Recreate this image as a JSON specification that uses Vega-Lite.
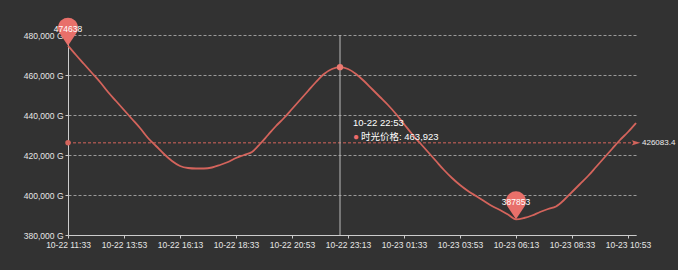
{
  "$schema": "https://vega.github.io/schema/vega-lite/v6.json",
  "width": 568,
  "height": 200,
  "autosize": {"type": "none"},
  "padding": {"left": 68, "top": 35, "right": 42, "bottom": 35},
  "background": "#323232",
  "config": {
    "view": {"stroke": null},
    "axis": {"labelColor": "#e6e6e6", "tickColor": "#cccccc", "domainColor": "#cccccc", "labelFont": "Liberation Sans", "labelFontSize": 8.5, "tickSize": 3, "title": null},
    "text": {"font": "Liberation Sans"}
  },
  "resolve": {"axis": {"x": "independent", "y": "independent"}},
  "datasets": {
    "prices": [
      {"t": "2023-10-22T11:33:00", "v": 474638},
      {"t": "2023-10-22T11:53:00", "v": 470000},
      {"t": "2023-10-22T12:13:00", "v": 465500},
      {"t": "2023-10-22T12:33:00", "v": 461000},
      {"t": "2023-10-22T12:53:00", "v": 456500},
      {"t": "2023-10-22T13:13:00", "v": 451500},
      {"t": "2023-10-22T13:33:00", "v": 447000},
      {"t": "2023-10-22T13:53:00", "v": 442500},
      {"t": "2023-10-22T14:13:00", "v": 438000},
      {"t": "2023-10-22T14:33:00", "v": 433500},
      {"t": "2023-10-22T14:53:00", "v": 428500},
      {"t": "2023-10-22T15:13:00", "v": 424500},
      {"t": "2023-10-22T15:33:00", "v": 420500},
      {"t": "2023-10-22T15:53:00", "v": 417000},
      {"t": "2023-10-22T16:13:00", "v": 414500},
      {"t": "2023-10-22T16:33:00", "v": 413500},
      {"t": "2023-10-22T16:53:00", "v": 413250},
      {"t": "2023-10-22T17:13:00", "v": 413250},
      {"t": "2023-10-22T17:33:00", "v": 413750},
      {"t": "2023-10-22T17:53:00", "v": 415000},
      {"t": "2023-10-22T18:13:00", "v": 416500},
      {"t": "2023-10-22T18:33:00", "v": 418500},
      {"t": "2023-10-22T18:53:00", "v": 420000},
      {"t": "2023-10-22T19:13:00", "v": 421500},
      {"t": "2023-10-22T19:33:00", "v": 425500},
      {"t": "2023-10-22T19:53:00", "v": 430000},
      {"t": "2023-10-22T20:13:00", "v": 434500},
      {"t": "2023-10-22T20:33:00", "v": 438500},
      {"t": "2023-10-22T20:53:00", "v": 443000},
      {"t": "2023-10-22T21:13:00", "v": 447500},
      {"t": "2023-10-22T21:33:00", "v": 452000},
      {"t": "2023-10-22T21:53:00", "v": 456500},
      {"t": "2023-10-22T22:13:00", "v": 460500},
      {"t": "2023-10-22T22:33:00", "v": 463000},
      {"t": "2023-10-22T22:53:00", "v": 463923},
      {"t": "2023-10-22T23:13:00", "v": 463000},
      {"t": "2023-10-22T23:33:00", "v": 460500},
      {"t": "2023-10-22T23:53:00", "v": 457000},
      {"t": "2023-10-23T00:13:00", "v": 453000},
      {"t": "2023-10-23T00:33:00", "v": 449000},
      {"t": "2023-10-23T00:53:00", "v": 445000},
      {"t": "2023-10-23T01:13:00", "v": 440500},
      {"t": "2023-10-23T01:33:00", "v": 435500},
      {"t": "2023-10-23T01:53:00", "v": 430500},
      {"t": "2023-10-23T02:13:00", "v": 426000},
      {"t": "2023-10-23T02:33:00", "v": 421500},
      {"t": "2023-10-23T02:53:00", "v": 417000},
      {"t": "2023-10-23T03:13:00", "v": 412500},
      {"t": "2023-10-23T03:33:00", "v": 408500},
      {"t": "2023-10-23T03:53:00", "v": 405000},
      {"t": "2023-10-23T04:13:00", "v": 402000},
      {"t": "2023-10-23T04:33:00", "v": 399500},
      {"t": "2023-10-23T04:53:00", "v": 397000},
      {"t": "2023-10-23T05:13:00", "v": 394500},
      {"t": "2023-10-23T05:33:00", "v": 392500},
      {"t": "2023-10-23T05:53:00", "v": 390250},
      {"t": "2023-10-23T06:13:00", "v": 387853},
      {"t": "2023-10-23T06:33:00", "v": 388500},
      {"t": "2023-10-23T06:53:00", "v": 389750},
      {"t": "2023-10-23T07:13:00", "v": 391500},
      {"t": "2023-10-23T07:33:00", "v": 393000},
      {"t": "2023-10-23T07:53:00", "v": 394250},
      {"t": "2023-10-23T08:13:00", "v": 397500},
      {"t": "2023-10-23T08:33:00", "v": 401500},
      {"t": "2023-10-23T08:53:00", "v": 405500},
      {"t": "2023-10-23T09:13:00", "v": 409500},
      {"t": "2023-10-23T09:33:00", "v": 414000},
      {"t": "2023-10-23T09:53:00", "v": 418500},
      {"t": "2023-10-23T10:13:00", "v": 423000},
      {"t": "2023-10-23T10:33:00", "v": 427500},
      {"t": "2023-10-23T10:53:00", "v": 431500},
      {"t": "2023-10-23T11:13:00", "v": 436000}
    ],
    "mean": [
      {"t": "2023-10-22T11:33:00", "t2": "2023-10-23T11:13:00", "v": 426083.4, "label": "426083.4"}
    ],
    "pins": [
      {"t": "2023-10-22T11:33:00", "v": 474638, "label": "474638"},
      {"t": "2023-10-23T06:13:00", "v": 387853, "label": "387853"}
    ],
    "hover": [
      {"t": "2023-10-22T22:53:00", "v": 463923, "time": "10-22 22:53", "label": "时光价格: 463,923"}
    ]
  },
  "layer": [
    {
      "data": {"name": "prices"},
      "mark": {"type": "line", "color": "#d4645c", "strokeWidth": 1.8, "interpolate": "monotone"},
      "encoding": {
        "x": {
          "field": "t", "type": "temporal",
          "scale": {"domain": [{"year": 2023, "month": 10, "date": 22, "hours": 11, "minutes": 33}, {"year": 2023, "month": 10, "date": 23, "hours": 11, "minutes": 13}]},
          "axis": {
            "format": "%m-%d %H:%M", "grid": false, "labelPadding": 2, "labelFlush": false, "labelOverlap": false,
            "values": [
              {"year": 2023, "month": 10, "date": 22, "hours": 11, "minutes": 33},
              {"year": 2023, "month": 10, "date": 22, "hours": 13, "minutes": 53},
              {"year": 2023, "month": 10, "date": 22, "hours": 16, "minutes": 13},
              {"year": 2023, "month": 10, "date": 22, "hours": 18, "minutes": 33},
              {"year": 2023, "month": 10, "date": 22, "hours": 20, "minutes": 53},
              {"year": 2023, "month": 10, "date": 22, "hours": 23, "minutes": 13},
              {"year": 2023, "month": 10, "date": 23, "hours": 1, "minutes": 33},
              {"year": 2023, "month": 10, "date": 23, "hours": 3, "minutes": 53},
              {"year": 2023, "month": 10, "date": 23, "hours": 6, "minutes": 13},
              {"year": 2023, "month": 10, "date": 23, "hours": 8, "minutes": 33},
              {"year": 2023, "month": 10, "date": 23, "hours": 10, "minutes": 53}
            ]
          }
        },
        "y": {
          "field": "v", "type": "quantitative",
          "scale": {"domain": [380000, 480000], "nice": false, "zero": false},
          "axis": {
            "orient": "left",
            "values": [380000, 400000, 420000, 440000, 460000, 480000],
            "labelExpr": "format(datum.value, ',') + ' G'",
            "labelOverlap": false, "labelFlush": false,
            "grid": true, "gridColor": "#9a9a9a", "gridDash": [3, 2], "gridWidth": 1,
            "labelPadding": 2
          }
        }
      }
    },
    {
      "data": {"name": "mean"},
      "mark": {"type": "rule", "color": "#d4645c", "strokeDash": [3, 2], "strokeWidth": 1},
      "encoding": {
        "x": {"field": "t", "type": "temporal", "axis": null},
        "x2": {"field": "t2"},
        "y": {"field": "v", "type": "quantitative", "axis": null}
      }
    },
    {
      "data": {"name": "mean"},
      "mark": {"type": "point", "shape": "circle", "filled": true, "color": "#d4645c", "size": 30, "opacity": 1},
      "encoding": {
        "x": {"field": "t", "type": "temporal", "axis": null},
        "y": {"field": "v", "type": "quantitative", "axis": null}
      }
    },
    {
      "data": {"name": "mean"},
      "mark": {"type": "point", "shape": "M-1,-0.6 L1,0 L-1,0.6 L-0.5,0 Z", "filled": true, "color": "#d4645c", "size": 80, "opacity": 1},
      "encoding": {
        "x": {"field": "t2", "type": "temporal", "axis": null},
        "y": {"field": "v", "type": "quantitative", "axis": null}
      }
    },
    {
      "data": {"name": "mean"},
      "mark": {"type": "text", "align": "left", "baseline": "middle", "dx": 6, "color": "#eeeeee", "fontSize": 8},
      "encoding": {
        "x": {"field": "t2", "type": "temporal", "axis": null},
        "y": {"field": "v", "type": "quantitative", "axis": null},
        "text": {"field": "label"}
      }
    },
    {
      "data": {"name": "hover"},
      "mark": {"type": "rule", "color": "#bbbbbb", "strokeWidth": 1},
      "encoding": {
        "x": {"field": "t", "type": "temporal", "axis": null}
      }
    },
    {
      "data": {"name": "hover"},
      "mark": {"type": "point", "shape": "circle", "filled": true, "color": "#ec7a72", "size": 40, "opacity": 1},
      "encoding": {
        "x": {"field": "t", "type": "temporal", "axis": null},
        "y": {"field": "v", "type": "quantitative", "axis": null}
      }
    },
    {
      "data": {"name": "hover"},
      "mark": {"type": "text", "align": "left", "baseline": "middle", "dx": 13, "dy": 56, "color": "#ffffff", "fontSize": 9.5, "font": "Liberation Sans, Noto Sans CJK SC"},
      "encoding": {
        "x": {"field": "t", "type": "temporal", "axis": null},
        "y": {"field": "v", "type": "quantitative", "axis": null},
        "text": {"field": "time"}
      }
    },
    {
      "data": {"name": "hover"},
      "mark": {"type": "text", "align": "center", "baseline": "middle", "dx": 16, "dy": 70, "color": "#ec6b6b", "fontSize": 10, "text": "●"},
      "encoding": {
        "x": {"field": "t", "type": "temporal", "axis": null},
        "y": {"field": "v", "type": "quantitative", "axis": null}
      }
    },
    {
      "data": {"name": "hover"},
      "mark": {"type": "text", "align": "left", "baseline": "middle", "dx": 21, "dy": 70, "color": "#ffffff", "fontSize": 9.5, "font": "Liberation Sans, Noto Sans CJK SC"},
      "encoding": {
        "x": {"field": "t", "type": "temporal", "axis": null},
        "y": {"field": "v", "type": "quantitative", "axis": null},
        "text": {"field": "label"}
      }
    },
    {
      "data": {"name": "pins"},
      "mark": {"type": "point", "shape": "M0,0 L-0.416,-0.622 A0.5,0.5 0 1 1 0.416,-0.622 Z", "filled": true, "color": "#e8706a", "size": 1600, "opacity": 1},
      "encoding": {
        "x": {"field": "t", "type": "temporal", "axis": null},
        "y": {"field": "v", "type": "quantitative", "axis": null}
      }
    },
    {
      "data": {"name": "pins"},
      "mark": {"type": "text", "align": "center", "baseline": "middle", "dy": -17, "color": "#ffffff", "fontSize": 8.5},
      "encoding": {
        "x": {"field": "t", "type": "temporal", "axis": null},
        "y": {"field": "v", "type": "quantitative", "axis": null},
        "text": {"field": "label"}
      }
    }
  ]
}
